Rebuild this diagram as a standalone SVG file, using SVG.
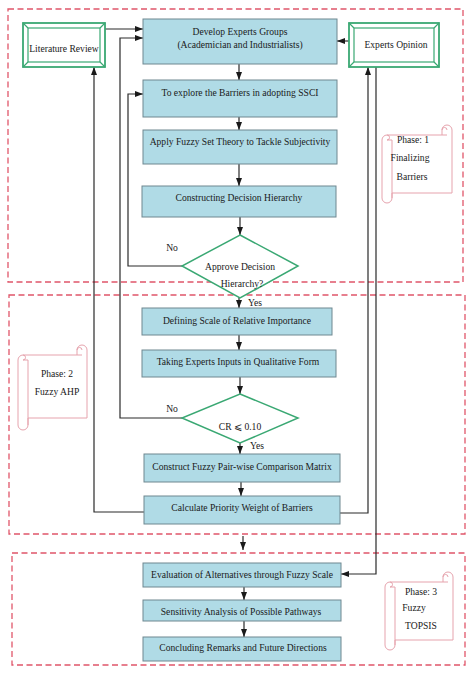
<svg xmlns="http://www.w3.org/2000/svg" width="474" height="674" viewBox="0 0 474 674" font-family="'Liberation Serif', 'Times New Roman', serif">
<defs>
<marker id="ah" markerWidth="8" markerHeight="6" refX="8" refY="3" orient="auto" markerUnits="userSpaceOnUse"><path d="M0,0 L8,3 L0,6 z" fill="#1a1a1a"/></marker>
<style>
.phase{fill:none;stroke:#e0566a;stroke-width:1.3;stroke-dasharray:6,3.5}
.box{fill:#b0dbe6;stroke:#6f8790;stroke-width:1}
.dia{fill:#ffffff;stroke:#3aa873;stroke-width:1.5}
.frame{fill:#ffffff;stroke:#3aa873;stroke-width:1.8}
.frame2{fill:none;stroke:#3aa873;stroke-width:1.2}
.scroll{fill:#ffffff;stroke:#e6a3ad;stroke-width:1}
.scrolld{fill:none;stroke:#e6a3ad;stroke-width:1}
.con{fill:none;stroke:#2a2a2a;stroke-width:1.2}
text{font-family:"Liberation Serif","Times New Roman",serif;font-size:9.6px;fill:#1a1a1a;text-anchor:middle}
</style>
</defs>

<g id="phases">
<rect id="phase1" class="phase" x="8" y="9" width="455" height="273"/>
<rect id="phase2" class="phase" x="9" y="295" width="456" height="239"/>
<rect id="phase3" class="phase" x="12" y="553" width="453" height="112"/>
</g>

<g id="connectors">
<path class="con" d="M105,29 H143" marker-end="url(#ah)"/>
<path class="con" d="M349,41 H337" marker-end="url(#ah)"/>
<path class="con" d="M182,418 H120 V38 H143" marker-end="url(#ah)"/>
<path class="con" d="M182,266 H128 V94 H143" marker-end="url(#ah)"/>
<path class="con" d="M144,512 H94 V67" marker-end="url(#ah)"/>
<path class="con" d="M340,513 H368 V67" marker-end="url(#ah)"/>
<path class="con" d="M376,67 V574 H341" marker-end="url(#ah)"/>
<path class="con" d="M239,64 V80" marker-end="url(#ah)"/>
<path class="con" d="M239,117 V130" marker-end="url(#ah)"/>
<path class="con" d="M239,164 V186" marker-end="url(#ah)"/>
<path class="con" d="M240,217 V235" marker-end="url(#ah)"/>
<path class="con" d="M239,297 V308" marker-end="url(#ah)"/>
<path class="con" d="M239,335 V350" marker-end="url(#ah)"/>
<path class="con" d="M240,377 V394" marker-end="url(#ah)"/>
<path class="con" d="M240,443 V454" marker-end="url(#ah)"/>
<path class="con" d="M241,482 V496" marker-end="url(#ah)"/>
<path class="con" d="M243,536 V550" marker-end="url(#ah)"/>
<path class="con" d="M244,587 V600" marker-end="url(#ah)"/>
<path class="con" d="M244,621 V637" marker-end="url(#ah)"/>
</g>

<g id="lit-review">
<rect class="frame" x="23" y="23" width="82" height="44"/>
<rect class="frame2" x="28" y="28" width="72" height="34"/>
<path class="frame2" d="M23,23 L28,28 M105,23 L100,28 M23,67 L28,62 M105,67 L100,62"/>
<text x="64" y="52">Literature Review</text>
</g>

<g id="experts-opinion">
<rect class="frame" x="349" y="23" width="90" height="44"/>
<rect class="frame2" x="354" y="28" width="80" height="34"/>
<path class="frame2" d="M349,23 L354,28 M439,23 L434,28 M349,67 L354,62 M439,67 L434,62"/>
<text x="396" y="48">Experts Opinion</text>
</g>

<g id="n1"><rect class="box" x="143" y="19" width="194" height="45"/>
<text x="240" y="35">Develop Experts Groups</text><text x="240" y="48">(Academician and Industrialists)</text></g>
<g id="n2"><rect class="box" x="143" y="80" width="194" height="37"/>
<text x="240" y="96">To explore the Barriers in adopting SSCI</text></g>
<g id="n3"><rect class="box" x="143" y="130" width="194" height="34"/>
<text x="240" y="145">Apply Fuzzy Set Theory to Tackle Subjectivity</text></g>
<g id="n4"><rect class="box" x="142" y="186" width="194" height="31"/>
<text x="239" y="201">Constructing Decision Hierarchy</text></g>
<g id="d1"><polygon class="dia" points="240,235 298,266 240,298 182,266"/>
<text x="240" y="270">Approve Decision</text><text x="242" y="287">Hierarchy?</text></g>
<text x="172" y="251">No</text>
<text x="255" y="306">Yes</text>

<g id="n5"><rect class="box" x="142" y="308" width="190" height="27"/>
<text x="237" y="324">Defining Scale of Relative Importance</text></g>
<g id="n6"><rect class="box" x="142" y="350" width="194" height="27"/>
<text x="238" y="365">Taking Experts Inputs in Qualitative Form</text></g>
<g id="d2"><polygon class="dia" points="240,394 298,418 240,443 182,418"/>
<text x="240" y="430">CR ⩽ 0.10</text></g>
<text x="172" y="412">No</text>
<text x="257" y="449">Yes</text>
<g id="n7"><rect class="box" x="144" y="454" width="196" height="28"/>
<text x="242" y="470">Construct Fuzzy Pair-wise Comparison Matrix</text></g>
<g id="n8"><rect class="box" x="144" y="496" width="196" height="28"/>
<text x="242" y="511">Calculate Priority Weight of Barriers</text></g>

<g id="n9"><rect class="box" x="143" y="563" width="198" height="24"/>
<text x="242" y="578">Evaluation of Alternatives through Fuzzy Scale</text></g>
<g id="n10"><rect class="box" x="143" y="600" width="198" height="21"/>
<text x="241" y="615">Sensitivity Analysis of Possible Pathways</text></g>
<g id="n11"><rect class="box" x="143" y="637" width="198" height="24"/>
<text x="243" y="651">Concluding Remarks and Future Directions</text></g>

<g id="scroll1">
<path class="scroll" d="M382,140 A5,5 0 0 1 387,135 H442 V130 A5,5 0 0 1 452,130 V193 H392 V198 A5,5 0 0 1 382,198 Z"/>
<path class="scrolld" d="M442,135 H447 M447,130 A2.5,2.5 0 0 0 442,130 M392,140 V198 M387,135 A2.5,2.5 0 0 1 387,140 H392"/>
<text x="413" y="143">Phase: 1</text><text x="410" y="161">Finalizing</text><text x="412" y="180">Barriers</text>
</g>
<g id="scroll2">
<path class="scroll" d="M18,360 A5,5 0 0 1 23,355 H77 V350 A5,5 0 0 1 87,350 V418 H28 V425 A5,5 0 0 1 18,425 Z"/>
<path class="scrolld" d="M77,355 H82 M82,350 A2.5,2.5 0 0 0 77,350 M28,360 V425 M23,355 A2.5,2.5 0 0 1 23,360 H28"/>
<text x="57" y="377">Phase: 2</text><text x="57" y="395">Fuzzy AHP</text>
</g>
<g id="scroll3">
<path class="scroll" d="M385,587 A5,5 0 0 1 390,582 H443 V577 A5,5 0 0 1 453,577 V640 H395 V645 A5,5 0 0 1 385,645 Z"/>
<path class="scrolld" d="M443,582 H448 M448,577 A2.5,2.5 0 0 0 443,577 M395,587 V645 M390,582 A2.5,2.5 0 0 1 390,587 H395"/>
<text x="421" y="595">Phase: 3</text><text x="414" y="611">Fuzzy</text><text x="421" y="629">TOPSIS</text>
</g>
</svg>
